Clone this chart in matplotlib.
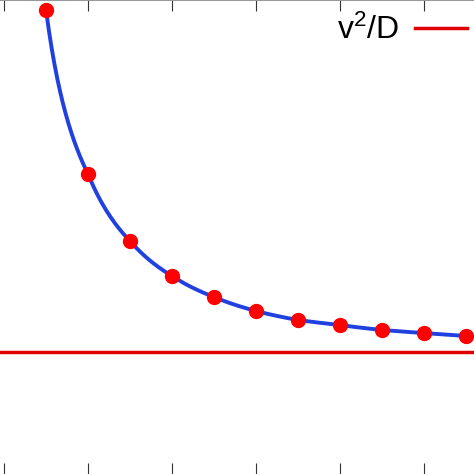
import matplotlib
matplotlib.use("Agg")
import matplotlib.pyplot as plt
import numpy as np

x = [0.5, 1.0, 1.5, 2.0, 2.5, 3.0, 3.5, 4.0, 4.5, 5.0, 5.5]
y = [4.42, 2.78, 2.11, 1.76, 1.55, 1.41, 1.32, 1.27, 1.22, 1.19, 1.16]
ref = 1.0
xticks = [0, 1, 2, 3, 4, 5]

plt.rcParams['font.family'] = ['Liberation Sans', 'DejaVu Sans']
plt.rcParams['mathtext.fontset'] = 'custom'
plt.rcParams['mathtext.rm'] = 'Liberation Sans'
plt.rcParams['mathtext.it'] = 'Liberation Sans'
fig = plt.figure(figsize=(4.74, 4.74), dpi=100)
ax = fig.add_axes([0, 0, 1, 1])
xs = np.array(x); ys = np.array(y)
t = np.linspace(xs[0], xs[-1], 300)
ly = np.interp(np.log(t), np.log(xs), np.log(ys - ref + 1e-9))
ax.plot(t, np.exp(ly) + ref, color='#2040e0', lw=2.8, zorder=2)
ax.plot(x, y, 'o', color='#ff0000', ms=10, zorder=3)
ax.axhline(ref, color='#e00000', lw=2.5, label=r'v$^\mathrm{2}$/D', zorder=1)
ax.set_xlim(-0.048, 5.595)
ax.set_ylim(-0.22, 4.52)
ax.set_xticks(xticks)
ax.set_yticks([])
ax.tick_params(axis='x', direction='in', top=True, bottom=True, length=8, color='#333333',
               labelbottom=False)
for s in ax.spines.values():
    s.set_color('#999999'); s.set_linewidth(1.5)
ax.spines['left'].set_visible(False)
ax.spines['right'].set_visible(False)
ax.spines['bottom'].set_visible(False)
ax.legend(loc='upper right', bbox_to_anchor=(1.045, 1.03), frameon=False, markerfirst=False,
          fontsize=23, handlelength=1.6, handletextpad=0.5)
fig.savefig('out.png', dpi=100)
